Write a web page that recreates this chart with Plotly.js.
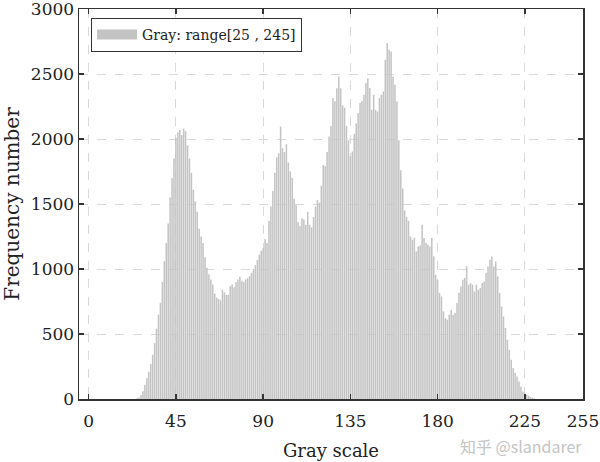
<!DOCTYPE html>
<html>
<head>
<meta charset="utf-8">
<script src="https://cdn.plot.ly/plotly-3.0.1.min.js"></script>
<style>html,body{margin:0;padding:0;background:#fff;}#chart{width:600px;height:462px;}</style>
</head>
<body>
<div id="chart"></div>
<script>
// Gray levels (x) and their counts (y)
const grayLevels = [];
for (let g = 25; g <= 230; g++) grayLevels.push(g);

const counts = [
  5, 12, 30, 60, 110, 160, 210, 270, 340, 430,            // 25-34
  540, 650, 740, 900, 1060, 1200, 1350, 1550, 1700, 1850, // 35-44
  2010, 2050, 2070, 2030, 2080, 2060, 1950, 1850, 1740, 1610, // 45-54
  1520, 1440, 1310, 1250, 1200, 1090, 1010, 960, 920, 880,   // 55-64
  810, 780, 770, 760, 840, 820, 800, 800, 870, 880,          // 65-74
  860, 900, 920, 940, 910, 900, 920, 930, 945, 970,          // 75-84
  1000, 1030, 1070, 1110, 1140, 1160, 1230, 1200, 1370, 1480, // 85-94
  1600, 1740, 1860, 1890, 2096, 1930, 1900, 1960, 1820, 1750, // 95-104
  1700, 1540, 1490, 1360, 1330, 1390, 1380, 1340, 1440, 1340, // 105-114
  1320, 1400, 1480, 1530, 1510, 1640, 1800, 1790, 1900, 2020, // 115-124
  2100, 2315, 2290, 2390, 2481, 2390, 2260, 2240, 2100, 1990, // 125-134
  1866, 1904, 2040, 2120, 2200, 2276, 2290, 2340, 2430, 2468, // 135-144
  2392, 2225, 2340, 2225, 2212, 2315, 2340, 2365, 2609, 2738, // 145-154
  2686, 2673, 2481, 2417, 2289, 1990, 1760, 1620, 1450, 1400, // 155-164
  1370, 1250, 1225, 1240, 1135, 1174, 1180, 1340, 1238, 1200, // 165-174
  1187, 1174, 1238, 1097, 956, 917, 815, 789, 674, 623,       // 175-184
  610, 648, 687, 648, 661, 738, 815, 866, 917, 930,           // 185-194
  1020, 879, 892, 879, 827, 879, 840, 853, 892, 904,          // 195-204
  969, 1020, 1071, 1097, 1020, 1058, 943, 815, 712, 635,      // 205-214
  546, 456, 379, 302, 238, 200, 174, 135, 97, 58,             // 215-224
  41, 33, 25, 15, 8, 3                                        // 225-230
];

const xTicks = [0, 45, 90, 135, 180, 225, 255];
const yTicks = [0, 500, 1000, 1500, 2000, 2500, 3000];
const seriesName = 'Gray: range[25 , 245]';

const barColor = '#c3c3c3';

const traces = [
  {
    type: 'bar',
    x: grayLevels,
    y: counts,
    marker: {color: barColor, line: {width: 0}},
    showlegend: false,
    hoverinfo: 'x+y'
  },
  {
    type: 'scatter',
    mode: 'lines',
    x: [null],
    y: [null],
    name: seriesName,
    line: {color: barColor, width: 14},
    showlegend: true
  }
];

const font = 'DejaVu Serif, serif';
const axisCommon = {
  ticks: 'inside',
  ticklen: 5,
  tickwidth: 1.5,
  tickcolor: '#333',
  showline: true,
  linecolor: '#333',
  linewidth: 1.5,
  mirror: 'ticks',
  showgrid: true,
  gridcolor: '#d9d9d9',
  griddash: 'dash',
  gridwidth: 1,
  zeroline: false,
  ticklabeloverflow: 'allow',
  tickfont: {family: font, size: 17, color: '#222'}
};

const layout = {
  width: 600,
  height: 462,
  margin: {l: 79, r: 17, t: 9, b: 63},
  paper_bgcolor: '#ffffff',
  plot_bgcolor: '#ffffff',
  bargap: 0.22,
  font: {family: font, size: 17, color: '#222'},
  xaxis: Object.assign({}, axisCommon, {
    range: [-5, 255],
    tickvals: xTicks,
    ticktext: xTicks.map(String),
    ticklabelstandoff: 6,
    title: {text: 'Gray scale', font: {family: font, size: 18, color: '#222'}, standoff: 14}
  }),
  yaxis: Object.assign({}, axisCommon, {
    range: [0, 3000],
    tickvals: yTicks,
    ticktext: yTicks.map(String),
    title: {text: 'Frequency number', font: {family: font, size: 20, color: '#222'}, standoff: 10}
  }),
  legend: {
    x: 0.024,
    y: 0.977,
    xanchor: 'left',
    yanchor: 'top',
    bgcolor: '#ffffff',
    bordercolor: '#333',
    borderwidth: 1,
    font: {family: font, size: 14, color: '#222'},
    itemwidth: 40,
    tracegroupgap: 0
  },
  annotations: [
    {
      xref: 'paper', yref: 'paper',
      x: 1.0, y: -0.088,
      xanchor: 'right', yanchor: 'top',
      borderpad: 0,
      text: '知乎 @slandarer',
      showarrow: false,
      font: {family: 'Noto Sans CJK SC, sans-serif', size: 16, color: '#c4c4c4'}
    }
  ]
};

Plotly.newPlot('chart', traces, layout, {displayModeBar: false, staticPlot: true});
</script>
</body>
</html>
